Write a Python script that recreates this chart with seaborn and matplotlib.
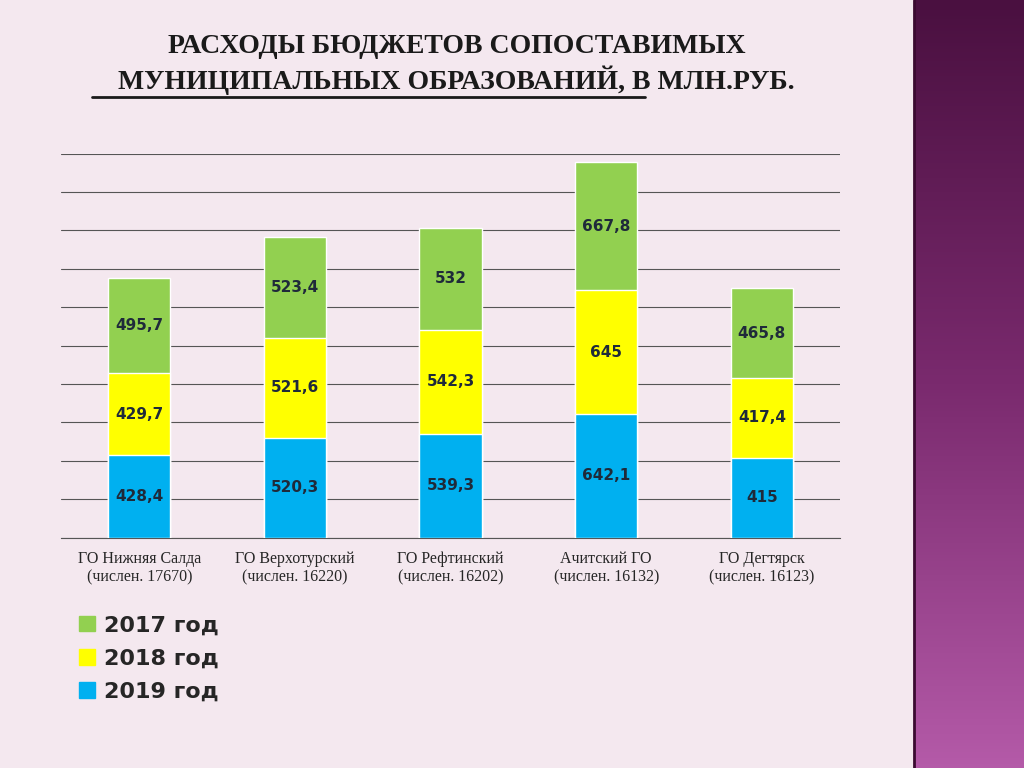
import matplotlib
matplotlib.use("Agg")
import matplotlib.pyplot as plt
import numpy as np
import pandas as pd
import seaborn as sns
from matplotlib.patches import Patch
from matplotlib.lines import Line2D

categories = ["ГО Нижняя Салда\n(числен. 17670)", "ГО Верхотурский\n(числен. 16220)",
              "ГО Рефтинский\n(числен. 16202)", "Ачитский ГО\n(числен. 16132)",
              "ГО Дегтярск\n(числен. 16123)"]
y2019 = [428.4, 520.3, 539.3, 642.1, 415]
y2018 = [429.7, 521.6, 542.3, 645, 417.4]
y2017 = [495.7, 523.4, 532, 667.8, 465.8]
labels2019 = ["428,4", "520,3", "539,3", "642,1", "415"]
labels2018 = ["429,7", "521,6", "542,3", "645", "417,4"]
labels2017 = ["495,7", "523,4", "532", "667,8", "465,8"]

colors = {"2017": "#92d050", "2018": "#ffff00", "2019": "#00b0f0"}

sns.set_style("white")
plt.rcParams["font.family"] = ["DejaVu Sans"]

fig = plt.figure(figsize=(10.24, 7.68), dpi=100)
fig.patch.set_facecolor("#f4e8ef")

# purple band on the right
band = fig.add_axes([0.893, 0, 0.107, 1])
grad = np.linspace(0, 1, 256).reshape(-1, 1)
band.imshow(grad, aspect="auto", cmap=matplotlib.colors.LinearSegmentedColormap.from_list(
    "p", ["#4a1040", "#7a2a6e", "#b45aa8"]), extent=[0, 1, 0, 1])
band.axis("off")
fig.add_artist(Line2D([0.893, 0.893], [0, 1], color="#3a0a30", lw=2))

ax = fig.add_axes([0.06, 0.30, 0.76, 0.50])
ax.set_facecolor("#f4e8ef")

df = pd.DataFrame({"cat": categories, "2019": y2019, "2018": y2018, "2017": y2017})
df["c2018"] = df["2019"] + df["2018"]
df["c2017"] = df["c2018"] + df["2017"]

for col, key in [("c2017", "2017"), ("c2018", "2018"), ("2019", "2019")]:
    sns.barplot(data=df, x="cat", y=col, color=colors[key], width=0.4,
                saturation=1, ax=ax, zorder=3)

for i in range(len(categories)):
    for lo, val, lab in [(0, y2019[i], labels2019[i]),
                         (y2019[i], y2018[i], labels2018[i]),
                         (y2019[i] + y2018[i], y2017[i], labels2017[i])]:
        ax.text(i, lo + val / 2, lab, ha="center", va="center",
                fontsize=11, fontweight="bold", color="#1f2a3a", zorder=4)

ax.set_ylim(0, 2000)
ax.set_yticks(np.arange(0, 2001, 200))
ax.yaxis.grid(True, color="#555555", lw=0.8, zorder=0)
ax.set_yticklabels([])
ax.tick_params(axis="y", length=0)
ax.set_xlabel("")
ax.set_ylabel("")
ax.tick_params(axis="x", labelsize=11.5, length=0, pad=10)
for t in ax.get_xticklabels():
    t.set_family("Liberation Serif")
for s in ["top", "right", "left"]:
    ax.spines[s].set_visible(False)
ax.spines["bottom"].set_color("#555555")

fig.text(0.446, 0.94, "РАСХОДЫ БЮДЖЕТОВ СОПОСТАВИМЫХ", ha="center", va="center",
         fontsize=20, fontweight="bold", family="Liberation Serif", color="#1a1a1a")
fig.text(0.446, 0.895, "МУНИЦИПАЛЬНЫХ ОБРАЗОВАНИЙ, В МЛН.РУБ.", ha="center", va="center",
         fontsize=20, fontweight="bold", family="Liberation Serif", color="#1a1a1a")
fig.add_artist(Line2D([0.09, 0.63], [0.874, 0.874], color="#1a1a1a", lw=2))

handles = [Patch(color=colors[k]) for k in ["2017", "2018", "2019"]]
fig.legend(handles, ["2017 год", "2018 год", "2019 год"], loc="lower left",
           bbox_to_anchor=(0.058, 0.06), frameon=False, handlelength=0.7,
           handleheight=0.7, handletextpad=0.4,
           prop={"size": 16, "weight": "bold"}, labelspacing=0.6)

fig.savefig("out.png", dpi=100, facecolor=fig.get_facecolor())
